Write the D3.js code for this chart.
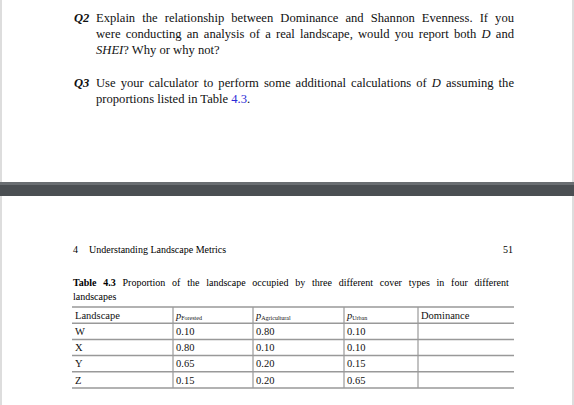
<!DOCTYPE html>
<html><head><meta charset="utf-8">
<script src="https://cdn.jsdelivr.net/npm/d3@7"></script>
<style>body{margin:0;background:#fff}svg{display:block;font-family:"Liberation Serif",serif}</style>
</head><body><div id="chart"></div>
<script>
const landscapes = ["W", "X", "Y", "Z"];
const pForested = [0.10, 0.80, 0.65, 0.15];
const pAgricultural = [0.80, 0.10, 0.20, 0.20];
const pUrban = [0.10, 0.10, 0.15, 0.65];
const subscripts = ["Forested", "Agricultural", "Urban"];

const width = 574, height = 405;
const svg = d3.select("#chart").append("svg").attr("width", width).attr("height", height);

// page edges and the grey band between pages
svg.append("rect").attr("x", 0).attr("y", 182).attr("width", width).attr("height", 14).attr("fill", "#4b4f53");
svg.append("rect").attr("x", 0).attr("y", 182).attr("width", width).attr("height", 3).attr("fill", "#6a6e72");
[[0, 182], [196, 405]].forEach(([y0, y1]) => {
  svg.append("line").attr("x1", 1).attr("x2", 1).attr("y1", y0).attr("y2", y1).attr("stroke", "#bbb");
  svg.append("line").attr("x1", width - 1).attr("x2", width - 1).attr("y1", y0).attr("y2", y1).attr("stroke", "#bbb");
});

// justify a text element to a target width by word spacing
function justify(t, w) {
  const n = t.text().split(" ").length - 1;
  const extra = w - t.node().getComputedTextLength();
  if (n > 0) t.attr("word-spacing", extra / n);
}

const q = svg.append("g").attr("font-size", 12.6).attr("fill", "#111");
function qline(y, parts) {
  const t = q.append("text").attr("x", 96).attr("y", y);
  parts.forEach(p => {
    const s = t.append("tspan").text(p[0]);
    if (p[1]) s.attr("font-style", "italic");
    if (p[2]) s.attr("fill", p[2]);
  });
  return t;
}
q.append("text").attr("x", 74).attr("y", 22).attr("font-style", "italic").attr("font-weight", "bold").text("Q2");
justify(qline(22, [["Explain the relationship between Dominance and Shannon Evenness. If you"]]), 418);
justify(qline(38, [["were conducting an analysis of a real landscape, would you report both "], ["D", 1], [" and"]]), 418);
qline(54, [["SHEI", 1], ["? Why or why not?"]]);
q.append("text").attr("x", 74).attr("y", 87).attr("font-style", "italic").attr("font-weight", "bold").text("Q3");
justify(qline(87, [["Use your calculator to perform some additional calculations of "], ["D", 1], [" assuming the"]]), 418);
qline(103, [["proportions listed in Table "], ["4.3", 0, "#2b2bd6"], ["."]]);

// running head
svg.append("text").attr("x", 73).attr("y", 253).attr("font-size", 10).text("4");
svg.append("text").attr("x", 89).attr("y", 253).attr("font-size", 10).text("Understanding Landscape Metrics");
svg.append("text").attr("x", 513).attr("y", 253).attr("font-size", 10).attr("text-anchor", "end").text("51");

// caption
const cap = svg.append("text").attr("x", 73).attr("y", 286).attr("font-size", 10);
cap.append("tspan").attr("font-weight", "bold").text("Table 4.3");
cap.append("tspan").text("  Proportion of the landscape occupied by three different cover types in four different");
justify(cap, 440);
svg.append("text").attr("x", 73).attr("y", 300).attr("font-size", 10).text("landscapes");

// table
const cols = ["Landscape", "pF", "pA", "pU", "Dominance"];
const colEdges = [72, 173, 253, 344, 418, 514];
const x = d3.scaleOrdinal().domain(cols).range(colEdges.slice(0, 5));
const rowKeys = ["header"].concat(landscapes);
const y = d3.scaleBand().domain(rowKeys).range([307, 388]);

const tbl = svg.append("g").attr("font-size", 10.5).attr("fill", "#111");
rowKeys.forEach(r => tbl.append("line").attr("x1", 72).attr("x2", 514).attr("y1", y(r)).attr("y2", y(r))
  .attr("stroke", "#999").attr("stroke-width", 1.5));
tbl.append("line").attr("x1", 72).attr("x2", 514).attr("y1", 388).attr("y2", 388).attr("stroke", "#999").attr("stroke-width", 1.5);
colEdges.slice(1, 5).forEach(cx => tbl.append("line").attr("x1", cx).attr("x2", cx).attr("y1", 307).attr("y2", 388)
  .attr("stroke", "#999").attr("stroke-width", 1.2));

const ty = r => y(r) + y.bandwidth() - 4.5;
tbl.append("text").attr("x", x("Landscape") + 3).attr("y", ty("header")).text("Landscape");
tbl.append("text").attr("x", x("Dominance") + 3).attr("y", ty("header")).text("Dominance");
["pF", "pA", "pU"].forEach((c, i) => {
  const t = tbl.append("text").attr("x", x(c) + 3).attr("y", ty("header"));
  t.append("tspan").attr("font-style", "italic").text("p");
  t.append("tspan").attr("font-size", 6).attr("dy", 1.5).text(subscripts[i]);
});
landscapes.forEach((l, i) => {
  tbl.append("text").attr("x", x("Landscape") + 3).attr("y", ty(l)).text(l);
  [[pForested, "pF"], [pAgricultural, "pA"], [pUrban, "pU"]].forEach(([arr, c]) =>
    tbl.append("text").attr("x", x(c) + 3).attr("y", ty(l)).text(d3.format(".2f")(arr[i])));
});
</script></body></html>
